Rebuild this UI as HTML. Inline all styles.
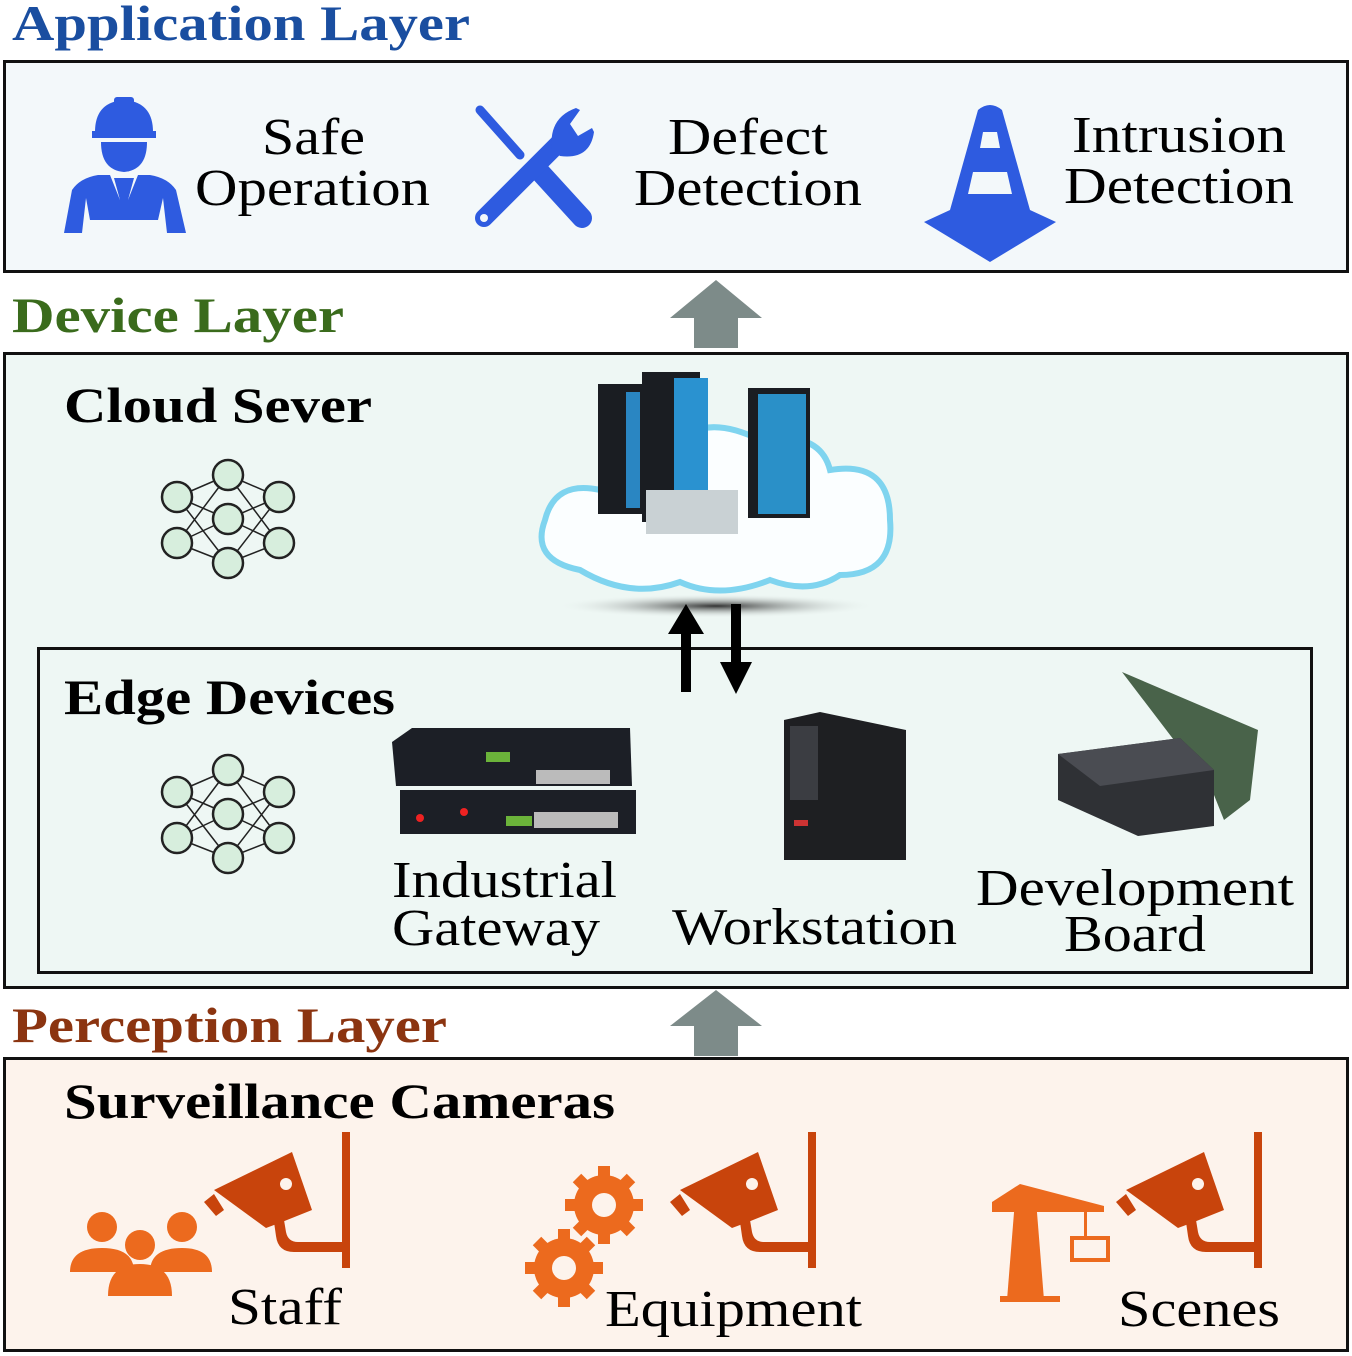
<!DOCTYPE html>
<html><head><meta charset="utf-8"><style>
html,body{margin:0;padding:0;background:#fff}
svg{display:block}
text{font-family:"Liberation Serif",serif}
</style></head><body>
<svg width="1352" height="1356" viewBox="0 0 1352 1356" xmlns="http://www.w3.org/2000/svg">
<defs>
<radialGradient id="sh"><stop offset="0" stop-color="#333"/><stop offset="1" stop-color="#eef7f4" stop-opacity="0"/></radialGradient>
<g id="nn" fill="#d7eedd" stroke="#222" stroke-width="2.5">
<g stroke-width="1.5" fill="none">
<path d="M0 0L51 -22M0 0L51 22M0 0L51 66M0 46L51 -22M0 46L51 22M0 46L51 66M51 -22L102 0M51 22L102 0M51 66L102 0M51 -22L102 46M51 22L102 46M51 66L102 46"/>
</g>
<circle cx="0" cy="0" r="15"/><circle cx="0" cy="46" r="15"/>
<circle cx="51" cy="-22" r="15"/><circle cx="51" cy="22" r="15"/><circle cx="51" cy="66" r="15"/>
<circle cx="102" cy="0" r="15"/><circle cx="102" cy="46" r="15"/>
</g>
<g id="cam" fill="#c8440c">
<polygon points="0,58 78,20 98,78 68,90 52,96"/>
<polygon points="-10,70 0,62 10,78 2,84"/>
<rect x="128" y="0" width="8" height="136"/>
<path d="M60 90 L62 104 Q64 120 80 120 L130 120 L130 110 L84 110 Q74 110 72 100 L70 88Z"/>
<circle cx="72" cy="52" r="6" fill="#fdf3ec"/>
</g>
</defs>

<text x="12" y="40" font-size="50" font-weight="bold" fill="#1a4ea0" textLength="458" lengthAdjust="spacingAndGlyphs">Application Layer</text>
<rect x="4.5" y="61.5" width="1343" height="210" fill="#f3f8fa" stroke="#111" stroke-width="3"/>
<g fill="#2e5be0">
<path d="M95 132 Q95 102 124 100 Q153 102 153 132Z"/><rect x="114" y="97" width="20" height="10" rx="3"/>
<rect x="92" y="131" width="64" height="7"/>
<path d="M101 142 L147 142 Q147 170 124 172 Q101 170 101 142Z"/>
<path d="M64 233 L72 190 Q80 178 98 175 L110 175 L120 200 L114 178 L134 178 L128 200 L138 175 L150 175 Q168 178 176 190 L186 233 L167 233 L163 198 L158 220 L90 220 L86 198 L82 233Z"/>
<rect x="86" y="220" width="76" height="6" fill="#f3f8fa"/>
</g>
<text x="262" y="154" font-size="52" textLength="103" lengthAdjust="spacingAndGlyphs">Safe</text>
<text x="195" y="205" font-size="52" textLength="235" lengthAdjust="spacingAndGlyphs">Operation</text>
<g stroke="#2e5be0" stroke-linecap="round" fill="none">
<line x1="480" y1="110" x2="520" y2="155" stroke-width="9"/>
<line x1="540" y1="172" x2="582" y2="218" stroke-width="20"/>
<line x1="484" y1="218" x2="560" y2="142" stroke-width="18"/>
</g>
<path d="M552 150 Q548 118 576 108 L580 110 L570 124 L578 136 L592 128 L594 132 Q590 160 560 156Z" fill="#2e5be0"/>
<circle cx="484" cy="218" r="4" fill="#f3f8fa"/>
<text x="668" y="154" font-size="52" textLength="160" lengthAdjust="spacingAndGlyphs">Defect</text>
<text x="634" y="205" font-size="52" textLength="228" lengthAdjust="spacingAndGlyphs">Detection</text>
<path d="M978 110 Q990 100 1002 110 L1030 210 L1056 222 L990 262 L924 222 L950 210Z" fill="#2e5be0"/>
<path d="M983 132 L997 132 L1000 148 L980 148Z" fill="#f3f8fa"/>
<path d="M973 172 L1007 172 L1012 194 L968 194Z" fill="#f3f8fa"/>
<text x="1072" y="152" font-size="52" textLength="214" lengthAdjust="spacingAndGlyphs">Intrusion</text>
<text x="1064" y="203" font-size="52" textLength="230" lengthAdjust="spacingAndGlyphs">Detection</text>

<polygon points="716,280 762,318 738,318 738,348 694,348 694,318 670,318" fill="#7d8b89"/>

<text x="12" y="332" font-size="50" font-weight="bold" fill="#3a6b1c" textLength="332" lengthAdjust="spacingAndGlyphs">Device Layer</text>
<rect x="4.5" y="353.5" width="1343" height="634" fill="#eef7f4" stroke="#111" stroke-width="3"/>
<text x="64" y="422" font-size="50" font-weight="bold" textLength="308" lengthAdjust="spacingAndGlyphs">Cloud Sever</text>
<use href="#nn" x="177" y="497"/>
<ellipse cx="716" cy="606" rx="160" ry="12" fill="url(#sh)"/>
<path d="M580 570 Q530 560 545 520 Q555 480 600 490 Q610 440 670 450 Q700 410 760 440 Q820 430 830 470 Q890 460 890 520 Q895 575 840 575 Q810 595 770 580 Q720 600 680 582 Q630 600 580 570Z" fill="#fbfeff" stroke="#7fd4ef" stroke-width="6"/>
<g>
<rect x="598" y="384" width="46" height="130" fill="#1a1d22"/>
<rect x="626" y="392" width="14" height="116" fill="#2a86c2"/>
<rect x="642" y="372" width="58" height="150" fill="#1a1d22"/>
<rect x="674" y="378" width="34" height="138" fill="#2a92d0"/>
<rect x="748" y="388" width="62" height="130" fill="#1a1d22"/>
<rect x="758" y="394" width="48" height="120" fill="#2a90c8"/>
<rect x="646" y="490" width="92" height="44" fill="#c9d1d4"/>
</g>

<rect x="38.5" y="648.5" width="1273" height="324" fill="none" stroke="#111" stroke-width="3"/>
<polygon points="686,604 704,634 691,634 691,692 681,692 681,634 668,634" fill="#000"/>
<polygon points="731,604 741,604 741,662 752,662 736,694 720,662 731,662" fill="#000"/>
<text x="64" y="714" font-size="50" font-weight="bold" textLength="331" lengthAdjust="spacingAndGlyphs">Edge Devices</text>
<use href="#nn" x="177" y="792"/>
<polygon points="392,742 412,728 630,728 632,786 396,786" fill="#1c1f26"/>
<rect x="400" y="790" width="236" height="44" fill="#1c1f26"/>
<rect x="486" y="752" width="24" height="10" fill="#6bb33a"/><rect x="536" y="770" width="74" height="14" fill="#bbb"/>
<rect x="506" y="816" width="26" height="10" fill="#6bb33a"/><rect x="534" y="812" width="84" height="16" fill="#bbb"/>
<circle cx="420" cy="818" r="4" fill="#e22"/><circle cx="464" cy="812" r="4" fill="#e22"/>
<text x="392" y="897" font-size="52" textLength="225" lengthAdjust="spacingAndGlyphs">Industrial</text>
<text x="392" y="945" font-size="52" textLength="208" lengthAdjust="spacingAndGlyphs">Gateway</text>
<polygon points="784,720 820,712 906,730 906,860 784,860" fill="#1e1f22"/>
<rect x="790" y="726" width="28" height="74" fill="#3b3d42"/>
<rect x="794" y="820" width="14" height="6" fill="#c33"/>
<text x="672" y="944" font-size="52" textLength="285" lengthAdjust="spacingAndGlyphs">Workstation</text>
<polygon points="1122,672 1258,730 1250,800 1224,820 1212,790" fill="#49634a"/>
<polygon points="1058,754 1180,738 1214,770 1214,826 1138,836 1058,800" fill="#2f3135"/>
<polygon points="1058,754 1180,738 1214,770 1100,786" fill="#4a4c52"/>
<text x="976" y="905" font-size="52" textLength="318" lengthAdjust="spacingAndGlyphs">Development</text>
<text x="1064" y="951" font-size="52" textLength="142" lengthAdjust="spacingAndGlyphs">Board</text>

<polygon points="716,990 762,1026 738,1026 738,1056 694,1056 694,1026 670,1026" fill="#7d8b89"/>

<text x="12" y="1042" font-size="50" font-weight="bold" fill="#8b3410" textLength="435" lengthAdjust="spacingAndGlyphs">Perception Layer</text>
<rect x="4.5" y="1058.5" width="1343" height="292" fill="#fdf3ec" stroke="#111" stroke-width="3"/>
<text x="64" y="1118" font-size="50" font-weight="bold" textLength="551" lengthAdjust="spacingAndGlyphs">Surveillance Cameras</text>
<g fill="#ec6a1e">
<circle cx="102" cy="1227" r="15"/><circle cx="182" cy="1227" r="15"/><circle cx="140" cy="1245" r="15"/>
<path d="M70 1272 Q70 1248 102 1248 Q134 1248 134 1272Z"/><path d="M150 1272 Q150 1248 182 1248 Q212 1248 212 1272Z"/>
<path d="M108 1296 Q108 1264 140 1264 Q172 1264 172 1296Z"/>
</g>
<use href="#cam" x="214" y="1132"/>
<text x="228" y="1324" font-size="52" textLength="114" lengthAdjust="spacingAndGlyphs">Staff</text>
<g fill="#ec6a1e">
<circle cx="604" cy="1205" r="30"/><circle cx="564" cy="1268" r="30"/>
<g stroke="#ec6a1e" stroke-width="12">
<path d="M604 1166V1244M565 1205H643M577 1178L631 1232M631 1178L577 1232"/>
<path d="M564 1229V1307M525 1268H603M537 1241L591 1295M591 1241L537 1295"/>
</g>
<circle cx="604" cy="1205" r="12" fill="#fdf3ec"/><circle cx="564" cy="1268" r="12" fill="#fdf3ec"/>
</g>
<use href="#cam" x="680" y="1132"/>
<text x="605" y="1326" font-size="52" textLength="257" lengthAdjust="spacingAndGlyphs">Equipment</text>
<g fill="#ec6a1e">
<polygon points="1015,1200 1036,1200 1044,1300 1007,1300"/>
<rect x="1000" y="1296" width="60" height="6"/>
<polygon points="992,1202 1020,1184 1104,1206 1104,1212 992,1212"/>
<rect x="1084" y="1210" width="3" height="30"/>
<rect x="1072" y="1238" width="36" height="22" fill="none" stroke="#ec6a1e" stroke-width="4"/>
</g>
<use href="#cam" x="1126" y="1132"/>
<text x="1118" y="1326" font-size="52" textLength="162" lengthAdjust="spacingAndGlyphs">Scenes</text>
</svg>
</body></html>
